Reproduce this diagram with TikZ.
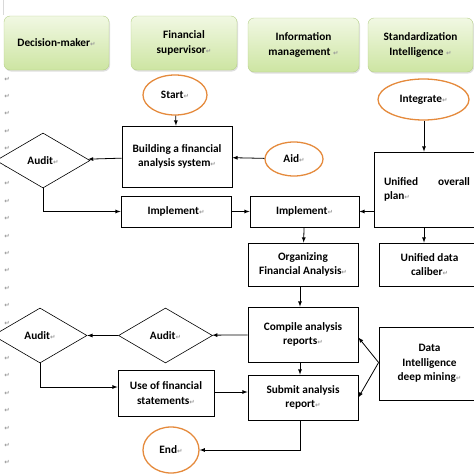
\documentclass[tikz,border=0pt]{standalone}
\usepackage{fontspec}
\setmainfont{Carlito}
\newfontfamily\retfont{DejaVu Sans}
\usepackage{tikz}
\usepackage{xcolor}
\usetikzlibrary{shapes,shadows}
\definecolor{laneborder}{HTML}{B5CF88}
\definecolor{lanetop}{HTML}{F1F8E3}
\definecolor{lanebottom}{HTML}{CDE5A2}
\definecolor{termorange}{HTML}{E58A3C}
\newcommand{\rmark}{{\retfont\textcolor{gray!80}{\fontsize{6.5}{6.5}\selectfont ↵}}}

\begin{document}
\begin{tikzpicture}[x=1pt,y=-1pt,font=\fontsize{11.3}{14.5}\selectfont\bfseries,>=latex]
			\tikzstyle{lane}=[rectangle,rounded corners=6pt,draw=laneborder,top color=lanetop,bottom color=lanebottom,align=center,inner sep=0pt,drop shadow={opacity=.25,shadow xshift=1pt,shadow yshift=-1.5pt}]
			\tikzstyle{term}=[ellipse,draw=termorange,line width=1.3pt,fill=white,inner sep=0pt]
			\tikzstyle{stepbox}=[rectangle,draw,line width=.8pt,fill=white,align=center,inner sep=0pt]
			\tikzstyle{check}=[diamond,draw,line width=.6pt,fill=white,inner sep=0pt,minimum width=94pt,minimum height=55pt]
			\tikzstyle{flow}=[->,line width=.8pt]

			\path[use as bounding box] (0,0) rectangle (474,474);
			\clip (0,0) rectangle (474,474);
			\draw[gray!30] (3,0) -- (3,15);

			\foreach \i in {0,...,22}
				\node (ret\i) at (7,79+17.45*\i) {\rmark};

			\node [lane,minimum width=105pt,minimum height=54pt] (dm) at (56.5,43) {Decision-maker\rmark};
			\node [lane,minimum width=106pt,minimum height=54pt] (fs) at (184,43) {Financial\\supervisor\rmark};
			\node [lane,minimum width=111pt,minimum height=54pt] (im) at (303.5,45) {Information\\management \rmark};
			\node [lane,minimum width=105pt,minimum height=54pt] (si) at (420.5,45) {Standardization\\Intelligence \rmark};

			\node [term,minimum width=64pt,minimum height=40pt] (start) at (175,95) {Start\rmark};
			\node [term,minimum width=91pt,minimum height=41pt] (integ) at (423.5,99.5) {Integrate\rmark};
			\node [stepbox,minimum width=110pt,minimum height=61pt] (build) at (177,156.5) {Building a financial\\analysis system\rmark};
			\node [term,minimum width=58pt,minimum height=34pt] (aid) at (294,159) {Aid\rmark};
			\node [check] (auditA) at (43,160.5) {Audit\rmark};
			\node [stepbox,minimum width=106pt,minimum height=75pt,text width=86pt,align=left] (plan) at (427,189.5) {Unified\hfill overall\\plan\rmark};
			\node [stepbox,minimum width=110pt,minimum height=31pt] (implA) at (176,211.5) {Implement\rmark};
			\node [stepbox,minimum width=109pt,minimum height=31pt] (implB) at (304.5,211.5) {Implement\rmark};
			\node [stepbox,minimum width=110pt,minimum height=43pt] (org) at (303,264.5) {Organizing\\Financial Analysis\rmark};
			\node [stepbox,minimum width=101pt,minimum height=43pt] (caliber) at (429.5,264.5) {Unified data\\caliber\rmark};
			\node [stepbox,minimum width=110pt,minimum height=55pt] (compile) at (303,334.5) {Compile analysis\\reports\rmark};
			\node [check] (auditB) at (165.5,335.5) {Audit\rmark};
			\node [check] (auditC) at (40,335.5) {Audit\rmark};
			\node [stepbox,minimum width=110pt,minimum height=45pt] (submit) at (303,397.5) {Submit analysis\\report\rmark};
			\node [stepbox,minimum width=96pt,minimum height=46pt] (use) at (166,393) {Use of financial\\statements\rmark};
			\node [stepbox,minimum width=101pt,minimum height=73pt] (mining) at (429.5,363.5) {Data\\Intelligence\\deep mining\rmark};
			\node [term,minimum width=56pt,minimum height=46pt] (end) at (171,450) {End\rmark};

			\draw [flow] (start) -- (build);
			\draw [flow] (build) -- (auditA);
			\draw [flow] (aid) -- (build);
			\draw [flow] (integ.south -| 424,0) -- (plan.north -| 424,0);
			\draw [flow] (auditA.south) |- (implA.west);
			\draw [flow] (implA) -- (implB);
			\draw [flow] (plan.west |- implB.east) -- (implB.east);
			\draw [flow] (implB) -- (org);
			\draw [flow] (plan.south -| 424,0) -- (caliber.north -| 424,0);
			\draw [flow] (org.south -| 300,0) -- (compile.north -| 300,0);
			\draw [flow] (compile) -- (auditB);
			\draw [flow] (auditB) -- (auditC);
			\draw [flow] (compile.south -| 300,0) -- (submit.north -| 300,0);
			\draw [flow] (auditC.south) |- ([yshift=6pt]use.west);
			\draw [flow] ([yshift=1pt]use.east) -- ([yshift=1pt]use.east -| submit.west);
			\draw [flow] ([yshift=1pt]mining.west) -- ([yshift=-3pt]compile.east);
			\draw [flow] ([yshift=1pt]mining.west) -- (submit.east);
			\draw [flow] (submit.south -| 300,0) |- (end.east);
\end{tikzpicture}
\end{document}
